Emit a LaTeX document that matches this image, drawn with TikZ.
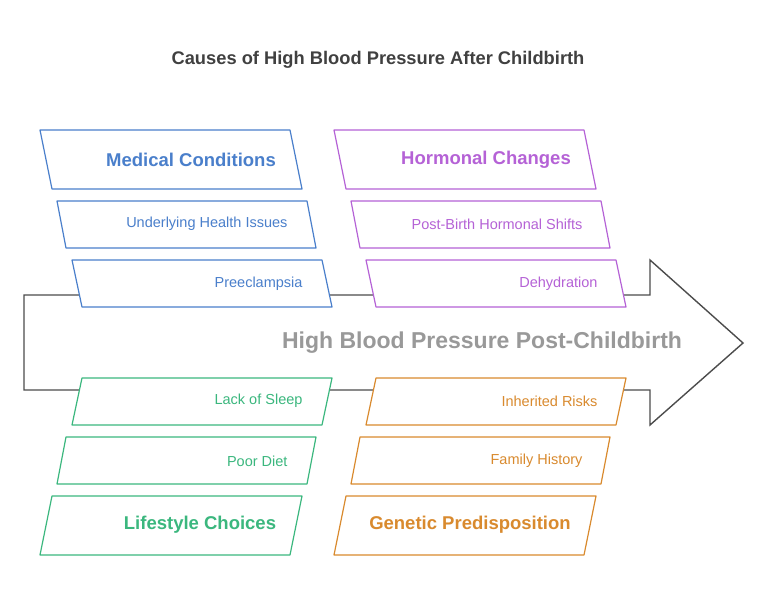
\documentclass[tikz,border=0pt]{standalone}
\usepackage{fontspec}
\setmainfont{Liberation Sans}
\begin{document}
\begin{tikzpicture}[x=1pt,y=-1pt,
  box/.style={line width=1.2pt,fill=white,line join=round},
  big/.style={font=\bfseries\fontsize{18.5}{22}\selectfont},
  small/.style={font=\fontsize{14.5}{17}\selectfont,anchor=east}]
\definecolor{cb}{HTML}{4A7FCB}\definecolor{cp}{HTML}{B562D6}
\definecolor{cg}{HTML}{3BB77E}\definecolor{co}{HTML}{D98A2E}
\useasboundingbox (0,0) rectangle (768,604);
\node[font=\bfseries\fontsize{18.3}{22}\selectfont,text=black!75] (title) at (378,60) {Causes of High Blood Pressure After Childbirth};
\draw[line width=1.4pt,black!70,line join=miter] (24,295) -- (650,295) -- (650,260) -- (743,343) -- (650,425) -- (650,390) -- (24,390) -- cycle;
\node[font=\bfseries\fontsize{23}{27}\selectfont,text=black!40] (main) at (482,343) {High Blood Pressure Post-Childbirth};
\newcommand\topbox[5]{\draw[box,draw=#5] (#1,#2) -- ++(250,0) -- ++(#4,#3-#2) -- ++(-250,0) -- cycle;}
\newcommand\botbox[5]{\draw[box,draw=#5] (#1+#4,#2) -- ++(250,0) -- ++(-#4,#3-#2) -- ++(-250,0) -- cycle;}
\topbox{40}{130}{189}{12}{cb}
\topbox{57}{201}{248}{9}{cb}
\topbox{72}{260}{307}{10}{cb}
\topbox{334}{130}{189}{12}{cp}
\topbox{351}{201}{248}{9}{cp}
\topbox{366}{260}{307}{10}{cp}
\botbox{72}{378}{425}{10}{cg}
\botbox{57}{437}{484}{9}{cg}
\botbox{40}{496}{555}{12}{cg}
\botbox{366}{378}{425}{10}{co}
\botbox{351}{437}{484}{9}{co}
\botbox{334}{496}{555}{12}{co}
\node[big,text=cb] (mc) at (191,160) {Medical Conditions};
\node[small,text=cb] (uh) at (291,224) {Underlying Health Issues};
\node[small,text=cb] (pe) at (306,284) {Preeclampsia};
\node[big,text=cp] (hc) at (486,160) {Hormonal Changes};
\node[small,text=cp] (pb) at (586,224) {Post-Birth Hormonal Shifts};
\node[small,text=cp] (dh) at (601,284) {Dehydration};
\node[small,text=cg] (ls) at (306,401) {Lack of Sleep};
\node[small,text=cg] (pd) at (291,461) {Poor Diet};
\node[big,text=cg] (lc) at (200,525) {Lifestyle Choices};
\node[small,text=co] (ir) at (601,401) {Inherited Risks};
\node[small,text=co] (fh) at (586,461) {Family History};
\node[big,text=co] (gp) at (470,525) {Genetic Predisposition};
\end{tikzpicture}
\end{document}
